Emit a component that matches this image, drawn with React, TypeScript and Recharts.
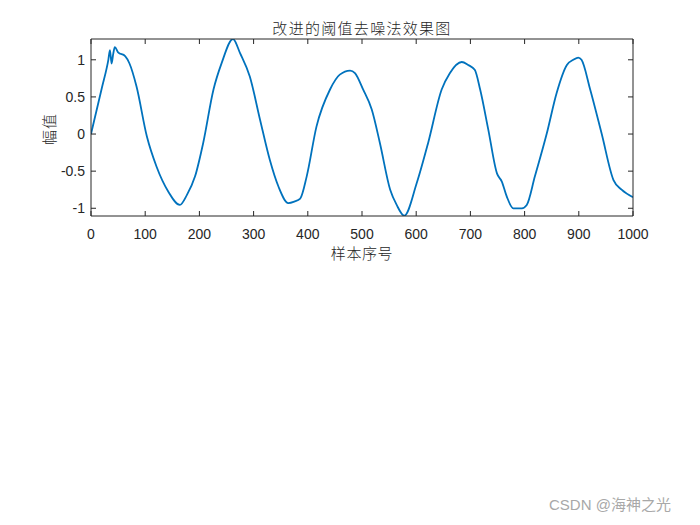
import { LineChart, Line, XAxis, YAxis } from "recharts";

// sample index / amplitude
const sampleIdx = [
  0, 20, 32, 35, 38, 41, 44, 50, 63, 71, 84, 103, 121, 143, 164, 177, 192, 207, 226, 241,
  262, 275, 293, 312, 330, 346, 364, 375, 386, 398, 416, 441, 459, 478, 487, 502, 518, 533,
  552, 564, 578, 601, 622, 647, 662, 684, 696, 708, 718, 733, 749, 758, 767, 779, 795, 804,
  819, 841, 859, 878, 890, 899, 905, 921, 942, 964, 979, 1000,
];
const amplitude = [
  0.0, 0.62, 1.0, 1.13, 0.95, 1.08, 1.17, 1.1, 1.05, 0.95, 0.64, -0.03, -0.44, -0.78, -0.955, -0.82, -0.57, -0.12, 0.6, 0.955,
  1.28, 1.09, 0.775, 0.19, -0.35, -0.71, -0.93, -0.91, -0.87, -0.57, 0.1, 0.6, 0.8, 0.855, 0.82, 0.6, 0.33, -0.12,
  -0.75, -0.955, -1.1, -0.66, -0.12, 0.6, 0.82, 0.97, 0.93, 0.865, 0.6, 0.06, -0.53, -0.64, -0.84, -1.0, -1.0, -0.955,
  -0.57, 0.01, 0.55, 0.93, 1.0, 1.03, 1.0, 0.6, 0.01, -0.62, -0.75, -0.85,
];
const xTicks = [0, 100, 200, 300, 400, 500, 600, 700, 800, 900, 1000];
const yTicks = [-1, -0.5, 0, 0.5, 1];

const title = "改进的阈值去噪法效果图";
const xLabel = "样本序号";
const yLabel = "幅值";
const watermark = "CSDN @海神之光";

const data = sampleIdx.map((x, i) => ({ x, y: amplitude[i] }));

const axisColor = "#262626";
const tickFont = { fontSize: 14, fill: axisColor, fontFamily: "Liberation Sans, Arial, sans-serif" };
const cjk = "'Noto Sans CJK SC', sans-serif";
const blank = () => "";

export default function App() {
  return (
    <div style={{ position: "absolute", left: 0, top: 0, width: 700, height: 525, background: "#fff" }}>
      <LineChart width={700} height={525} data={data} margin={{ top: 29, right: 57, bottom: 279, left: 51 }}>
        <XAxis xAxisId="b" type="number" dataKey="x" domain={[0, 1000]} ticks={xTicks} height={30}
          stroke={axisColor} tickSize={-5} tickMargin={18} tick={tickFont} allowDataOverflow />
        <XAxis xAxisId="t" orientation="top" type="number" dataKey="x" domain={[0, 1000]} ticks={xTicks} height={10}
          stroke={axisColor} tickSize={-5} tickFormatter={blank} allowDataOverflow />
        <YAxis yAxisId="l" type="number" dataKey="y" domain={[-1.104, 1.28]} ticks={yTicks} width={40}
          stroke={axisColor} tickSize={-5} tickMargin={11} tick={tickFont} allowDataOverflow />
        <YAxis yAxisId="r" orientation="right" type="number" dataKey="y" domain={[-1.104, 1.28]} ticks={yTicks} width={10}
          stroke={axisColor} tickSize={-5} tickFormatter={blank} allowDataOverflow />
        <Line xAxisId="b" yAxisId="l" type="monotone" dataKey="y" stroke="#0072BD" strokeWidth={1.8}
          dot={false} isAnimationActive={false} />
      </LineChart>
      <div style={{ position: "absolute", left: 362, top: 20, transform: "translateX(-50%)", fontFamily: cjk,
        fontSize: 15, fontWeight: 300, lineHeight: 1, letterSpacing: 1.3, whiteSpace: "nowrap", color: "#262626" }}>
        {title}
      </div>
      <div style={{ position: "absolute", left: 362, top: 245, transform: "translateX(-50%)", fontFamily: cjk,
        fontSize: 15, fontWeight: 300, lineHeight: 1, letterSpacing: 0.6, whiteSpace: "nowrap", color: "#262626" }}>
        {xLabel}
      </div>
      <div style={{ position: "absolute", left: 48, top: 129, transform: "translate(-50%, -50%) rotate(-90deg)",
        fontFamily: cjk, fontSize: 15, fontWeight: 300, lineHeight: 1, letterSpacing: 1, whiteSpace: "nowrap", color: "#262626" }}>
        {yLabel}
      </div>
      <div style={{ position: "absolute", left: 549, top: 497, fontFamily: "'Liberation Sans', " + cjk,
        fontSize: 15, lineHeight: 1, whiteSpace: "nowrap", color: "#a8a8a8" }}>
        {watermark}
      </div>
    </div>
  );
}
